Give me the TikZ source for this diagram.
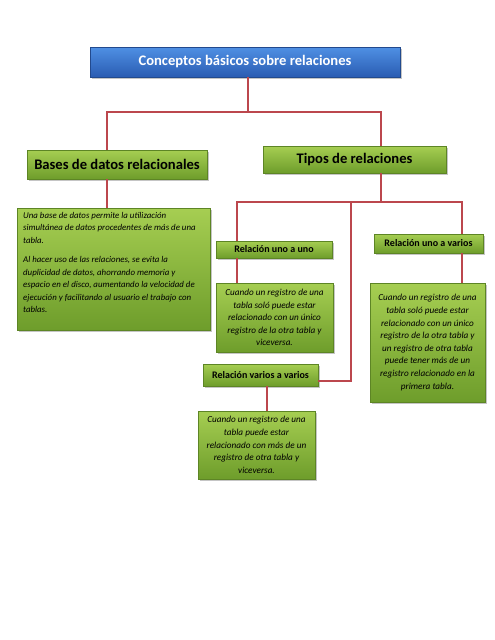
\documentclass[tikz,border=0pt]{standalone}
\usepackage{fontspec}
\setmainfont{Carlito}
\usetikzlibrary{shadows,calc}
\definecolor{gtop}{HTML}{A6CE52}
\definecolor{gbot}{HTML}{6E9D2B}
\definecolor{btop}{HTML}{4F90E4}
\definecolor{bbot}{HTML}{2A5CB2}
\definecolor{lred}{HTML}{BC474D}
\begin{document}
\begin{tikzpicture}[x=1pt,y=-1pt,
  gbox/.style={draw=gbot!85!black, line width=0.4pt, top color=gtop, bottom color=gbot,
    drop shadow={shadow xshift=1.5pt, shadow yshift=-1.8pt, opacity=0.45},
    inner sep=0pt, outer sep=0pt},
  bbox/.style={draw=bbot!80!black, line width=0.4pt, top color=btop, bottom color=bbot,
    drop shadow={shadow xshift=1.5pt, shadow yshift=-1.8pt, opacity=0.45},
    inner sep=0pt, outer sep=0pt},
  bigtitle/.style={font=\bfseries\fontsize{14.6}{16}\selectfont},
  subtitle/.style={font=\bfseries\fontsize{10}{11}\selectfont},
  body/.style={font=\itshape\fontsize{9.2}{12.6}\selectfont, align=center},
  conn/.style={draw=lred, line width=1.4pt}
]
\useasboundingbox[fill=white] (0,0) rectangle (495,640);

\coordinate (j1) at (248,112);
\coordinate (jl) at (107,112);
\coordinate (jr) at (381,112);
\coordinate (j2) at (381,202);
\coordinate (j2l) at (237,202);
\coordinate (j2r) at (462,202);
\coordinate (jm) at (351,202);
\coordinate (jm2) at (351,381);

\node[bbox, minimum width=310pt, minimum height=30pt, text=white, bigtitle] (title) at (245,62) {Conceptos básicos sobre relaciones};
\node[gbox, minimum width=180pt, minimum height=29pt, bigtitle] (bases) at (117,164.5) {Bases de datos relacionales};
\node[gbox, minimum width=183pt, minimum height=27pt, bigtitle] (tipos) at (354.5,159.5) {Tipos de relaciones};

\node[gbox, minimum width=193pt, minimum height=122pt] (ltext) at (113.5,269) {};
\node[font=\itshape\fontsize{8.85}{12.5}\selectfont, align=left, anchor=north west, inner sep=0pt] (ltxt) at ($(ltext.north west)+(6,4)$)
 {Una base de datos permite la utilización\\
  simultánea de datos procedentes de más de una\\
  tabla.\\[7pt]
  Al hacer uso de las relaciones, se evita la\\
  duplicidad de datos, ahorrando memoria y\\
  espacio en el disco, aumentando la velocidad de\\
  ejecución y facilitando al usuario el trabajo con\\
  tablas.};

\node[gbox, minimum width=116pt, minimum height=17pt, subtitle] (unoh) at (274,249.5) {Relación uno a uno};
\node[gbox, minimum width=117pt, minimum height=69pt, body] (unot) at (274.5,317.5)
 {Cuando un registro de una\\ tabla soló puede estar\\ relacionado con un único\\ registro de la otra tabla y\\ viceversa.};

\node[gbox, minimum width=109pt, minimum height=19pt, subtitle] (varh) at (428.5,243.5) {Relación uno a varios};
\node[gbox, minimum width=115pt, minimum height=119pt, body] (vart) at (427.5,342.5)
 {Cuando un registro de una\\ tabla soló puede estar\\ relacionado con un único\\ registro de la otra tabla y\\ un registro de otra tabla\\ puede tener más de un\\ registro relacionado en la\\ primera tabla.};

\node[gbox, minimum width=115pt, minimum height=22pt, subtitle] (vvh) at (260.5,375) {Relación varios a varios};
\node[gbox, minimum width=117pt, minimum height=68pt, body] (vvt) at (256.5,445)
 {Cuando un registro de una\\ tabla puede estar\\ relacionado con más de un\\ registro de otra tabla y\\ viceversa.};

\path[conn] (title.south -| j1) -- (j1);
\path[conn] (bases.north -| jl) -- (jl) -- (jr) -- (tipos.north -| jr);
\path[conn] (bases.south -| jl) -- (ltext.north -| jl);
\path[conn] (tipos.south -| j2) -- (j2);
\path[conn] (unoh.north -| j2l) -- (j2l) -- (j2r) -- (varh.north -| j2r);
\path[conn] (unoh.south -| j2l) -- (unot.north -| j2l);
\path[conn] (varh.south -| j2r) -- (vart.north -| j2r);
\path[conn] (jm) -- (jm2) -- (vvh.east |- jm2);
\path[conn] (vvh.south -| 267,0) -- (vvt.north -| 267,0);
\end{tikzpicture}
\end{document}
